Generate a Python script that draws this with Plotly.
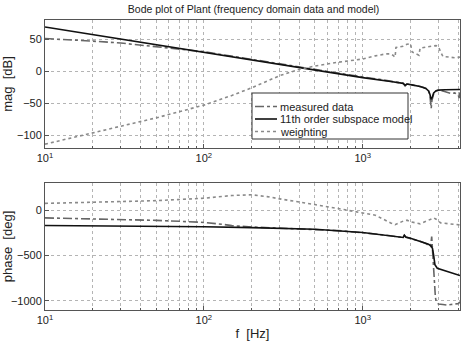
import plotly.graph_objects as go

# ---- frequency-domain data (Hz, dB, deg) ----
f_meas_mag = [10, 15, 20, 30, 40, 50, 65, 80, 100, 150, 200, 300, 500, 700, 1000, 1300, 1500,
              1700, 1800, 1850, 1900, 2000, 2200, 2400, 2500, 2600, 2650, 2700, 2730, 2760,
              2800, 2900, 3000, 3200, 3400, 3600, 3800, 3900, 4000, 4050, 4100]
mag_meas = [51, 49, 47, 44, 41, 39, 36, 33, 30.5, 24, 18.5, 11.5, 2.5, -3, -9, -13, -15.5,
            -18, -19, -23, -20, -21, -23, -25, -27, -31, -38, -58, -46, -40, -35, -31, -30,
            -31, -33, -35, -34, -36, -37, -42, -33]

f_model_mag = [10, 20, 50, 100, 200, 500, 1000, 1500, 1800, 1850, 1900, 2000, 2300, 2500,
               2600, 2650, 2700, 2750, 2800, 2900, 3000, 3300, 3600, 4000, 4100]
mag_model = [69, 57, 41, 29, 17, 1, -10, -16, -19, -22, -20, -21, -24, -27, -31, -36, -44,
             -40, -34, -30.5, -29.5, -29, -29, -29, -28.5]

f_wt_mag = [10, 20, 30, 50, 70, 100, 150, 200, 300, 400, 500, 700, 1000, 1200, 1400, 1500,
            1550, 1600, 1620, 1700, 1800, 1900, 2000, 2050, 2200, 2260, 2300, 2500, 2700,
            2900, 3000, 3100, 3200, 3500, 3800, 4100]
mag_wt = [-114, -97, -86, -73, -63, -53, -38, -26, -7, 3, 8, 14, 19, 24, 27, 27, 25, 22, 37,
          38, 39, 42, 43, 30, 27, 25, 36, 37, 39, 40, 38, 30, 23, 22, 21, 22]

f_meas_ph = [10, 20, 30, 50, 70, 100, 130, 150, 200, 300, 500, 700, 1000, 1300, 1500, 1800,
             1830, 1870, 2000, 2300, 2500, 2600, 2680, 2720, 2750, 2780, 2800, 2830, 2870,
             2900, 2950, 3000, 3200, 3400, 3600, 3800, 4000, 4100]
ph_meas = [-85, -95, -100, -112, -122, -135, -155, -170, -185, -198, -212, -225, -248, -268,
           -282, -302, -278, -298, -312, -342, -368, -385, -400, -290, -420, -560, -700,
           -880, -960, -1000, -1025, -1035, -1040, -1045, -1040, -1035, -1030, -1010]

f_model_ph = [10, 50, 100, 200, 500, 1000, 1500, 1800, 1830, 1870, 2000, 2300, 2600, 2700,
              2750, 2800, 2850, 2950, 3200, 3600, 4100]
ph_model = [-168, -175, -182, -192, -210, -245, -280, -300, -275, -295, -310, -340, -375,
            -395, -420, -500, -600, -640, -660, -690, -720]

f_wt_ph = [10, 20, 50, 100, 150, 200, 250, 300, 400, 500, 700, 1000, 1200, 1500, 1600, 1800,
           1900, 2000, 2300, 2600, 2800, 2900, 3100, 3500, 4100]
ph_wt = [75, 85, 105, 132, 162, 170, 150, 125, 85, 62, 18, -29, -55, -140, -160, -120, -110,
         -128, -150, -110, -85, -100, -140, -150, -162]

x_ticks = [10, 100, 1000]
x_ticktext = ["10<sup>1</sup>", "10<sup>2</sup>", "10<sup>3</sup>"]
x_minor = [20, 30, 40, 50, 60, 70, 80, 90, 200, 300, 400, 500, 600, 700, 800, 900,
           2000, 3000, 4000]
mag_ticks = [-100, -50, 0, 50]
ph_ticks = [-1000, -500, 0]

series_names = ["measured data", "11th order subspace model", "weighting"]
series_style = [dict(color="#666666", width=1.6, dash="dashdot"),
                dict(color="#111111", width=1.6, dash="solid"),
                dict(color="#8a8a8a", width=1.6, dash="dot")]

FONT = "Liberation Sans, Arial, sans-serif"
fig = go.Figure()

panels = [
    ("x", "y", [(f_meas_mag, mag_meas), (f_model_mag, mag_model), (f_wt_mag, mag_wt)]),
    ("x2", "y2", [(f_meas_ph, ph_meas), (f_model_ph, ph_model), (f_wt_ph, ph_wt)]),
]
for xa, ya, data in panels:
    for (fx, vy), name, st in zip(data, series_names, series_style):
        fig.add_trace(go.Scatter(x=fx, y=vy, mode="lines", name=name, line=st,
                                 xaxis=xa, yaxis=ya, showlegend=False))

grid = dict(showgrid=True, gridcolor="#b4b4b4", griddash="dot", gridwidth=1)
box = dict(showline=True, linecolor="#555555", linewidth=1, mirror=True, automargin=False,
           ticks="inside", ticklen=4, tickcolor="#555555", zeroline=False)
xcommon = dict(type="log", range=[1, 3.6128], tickmode="array", tickvals=x_ticks,
               ticktext=x_ticktext,
               minor=dict(tickmode="array", tickvals=x_minor, showgrid=True,
                          gridcolor="#b4b4b4", griddash="dot", ticks="inside",
                          ticklen=2, tickcolor="#555555"),
               **grid, **box)

fig.update_layout(
    width=474, height=344,
    margin=dict(l=45, r=14, t=20, b=34),
    paper_bgcolor="white", plot_bgcolor="white",
    font=dict(family=FONT, size=11, color="#222222"),
    showlegend=False,
    title=dict(text="Bode plot of Plant (frequency domain data and model)",
               x=0.535, xanchor="center", y=0.972, yanchor="middle",
               font=dict(size=10.5, color="#222222")),
    xaxis=dict(domain=[0, 1], anchor="y", **xcommon),
    yaxis=dict(domain=[0.5586, 1.0], anchor="x", range=[-120, 80], tickvals=mag_ticks,
               title=dict(text="mag&nbsp;&nbsp;[dB]", standoff=3), **grid, **box),
    xaxis2=dict(domain=[0, 1], anchor="y2",
                title=dict(text="f&nbsp;&nbsp;[Hz]", standoff=3), **xcommon),
    yaxis2=dict(domain=[0, 0.438], anchor="x2", range=[-1100, 300], tickvals=ph_ticks,
                title=dict(text="phase&nbsp;&nbsp;[deg]", standoff=2), **grid, **box),
)

# legend box drawn in paper coordinates
def px_x(p):
    return (p - 45) / 415.0

def px_y(p):
    return (310 - p) / 290.0

fig.add_shape(type="rect", xref="paper", yref="paper",
              x0=px_x(252), x1=px_x(408), y0=px_y(139), y1=px_y(93),
              line=dict(color="#333333", width=1), fillcolor="white", layer="above")
for i, (name, st) in enumerate(zip(series_names, series_style)):
    yy = px_y(106.5 + 12.5 * i)
    fig.add_shape(type="line", xref="paper", yref="paper",
                  x0=px_x(255), x1=px_x(277), y0=yy, y1=yy, line=st, layer="above")
    fig.add_annotation(text=name, xref="paper", yref="paper", x=px_x(278), y=yy,
                       xanchor="left", yanchor="middle", showarrow=False,
                       font=dict(size=11, color="#222222"))

fig.write_html("out.html")
